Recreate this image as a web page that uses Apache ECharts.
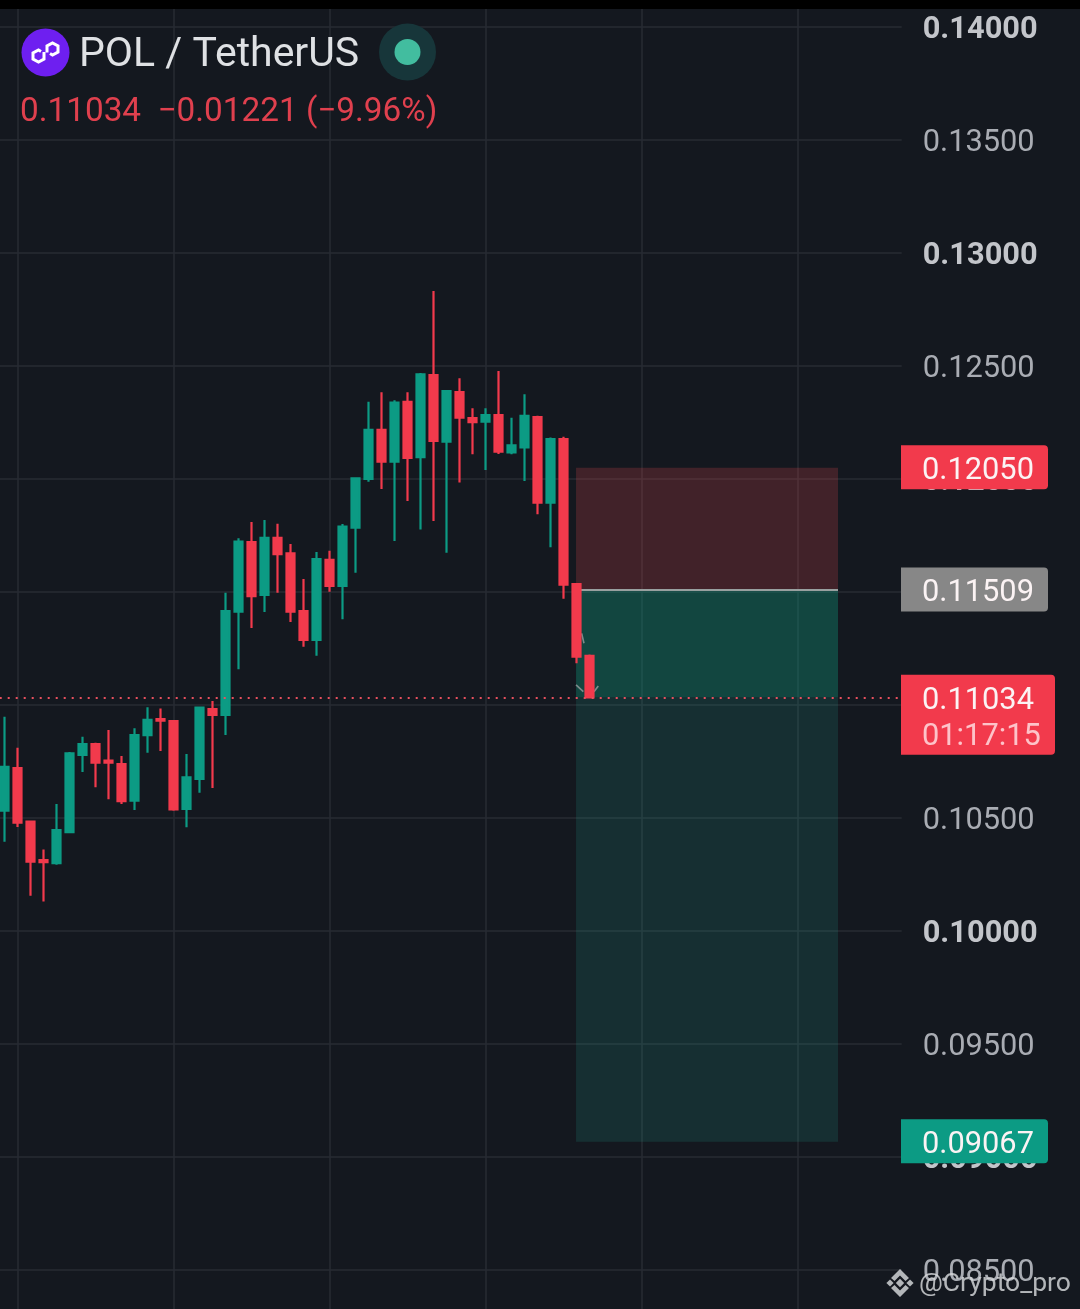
<!DOCTYPE html>
<html>
<head>
<meta charset="utf-8">
<style>html,body{margin:0;padding:0;background:#14181f}#c{width:1080px;height:1309px}</style>
<script src="https://cdn.jsdelivr.net/npm/echarts@6/dist/echarts.min.js"></script>
</head>
<body>
<div id="c"></div>
<script>
const opens  = [0.10532,0.10721,0.10484,0.10314,0.10300,0.10437,0.10779,0.10827,0.10754,0.10739,0.10577,0.10867,0.10938,0.10929,0.10540,0.10673,0.10982,0.10956,0.11413,0.11721,0.11487,0.11740,0.11671,0.11416,0.11288,0.11642,0.11527,0.11785,0.12000,0.12217,0.12077,0.12341,0.12097,0.12460,0.12165,0.12384,0.12269,0.12254,0.12283,0.12118,0.12140,0.12274,0.11895,0.12177,0.11535,0.11218];
const closes = [0.10726,0.10479,0.10307,0.10305,0.10447,0.10786,0.10827,0.10745,0.10745,0.10575,0.10867,0.10934,0.10931,0.10538,0.10680,0.10988,0.10956,0.11416,0.11723,0.11482,0.11740,0.11668,0.11413,0.11288,0.11646,0.11527,0.11789,0.12003,0.12217,0.12077,0.12338,0.12093,0.12463,0.12169,0.12389,0.12271,0.12252,0.12283,0.12121,0.12149,0.12279,0.11895,0.12177,0.11532,0.11214,0.11034];
const lows   = [0.10395,0.10460,0.10156,0.10130,0.10293,0.10434,0.10704,0.10636,0.10583,0.10562,0.10535,0.10789,0.10796,0.10532,0.10459,0.10612,0.10633,0.10867,0.11158,0.11341,0.11412,0.11497,0.11367,0.11258,0.11218,0.11501,0.11379,0.11585,0.11988,0.11956,0.11726,0.11903,0.11777,0.11814,0.11674,0.11985,0.12109,0.12040,0.12111,0.12109,0.11991,0.11844,0.11698,0.11470,0.11185,0.11031];
const highs  = [0.10948,0.10811,0.10487,0.10361,0.10562,0.10792,0.10860,0.10833,0.10889,0.10774,0.10897,0.10990,0.10985,0.10934,0.10783,0.10991,0.11018,0.11497,0.11738,0.11810,0.11819,0.11802,0.11712,0.11558,0.11677,0.11683,0.11801,0.12004,0.12342,0.12384,0.12348,0.12384,0.12469,0.12832,0.12389,0.12446,0.12313,0.12313,0.12478,0.12271,0.12375,0.12280,0.12184,0.12187,0.11535,0.11223];

const stopPrice = 0.12050, entryPrice = 0.11509, lastPrice = 0.11034, targetPrice = 0.09067;
const positionBars = [44.95, 65.1];
const tagPrices = [stopPrice, entryPrice, targetPrice, lastPrice];
const tagTexts = ['0.12050', '0.11509', '0.09067', '0.11034'];
const countdown = '01:17:15';
const tradeMarkBars = [[44.95,45.51],[46.66,46.33],[45.38,45.56]];
const tradeMarkPrices = [[0.11089,0.11059],[0.11084,0.11059],[0.11317,0.11273]];
const titleText = 'POL / TetherUS';
const quoteText = '0.11034  \u22120.01221 (\u22129.96%)';
const watermark = '@Crypto_pro';

const UP = '#0c9b84', DOWN = '#f23a4c', BG = '#14181f';
const BAR_SLOTS = 71;
const categories = Array.from({length: BAR_SLOTS}, (_, i) => String(i));
const candles = [['-','-','-','-']].concat(opens.map((o, i) => [o, closes[i], lows[i], highs[i]]));

const boxes = [
  [stopPrice, entryPrice, 'rgba(237,75,80,0.21)'],
  [entryPrice, lastPrice, 'rgba(16,165,135,0.33)'],
  [lastPrice, targetPrice, 'rgba(35,165,150,0.17)']
];
const tagColors = [DOWN, '#878787', UP, DOWN];

const chart = echarts.init(document.getElementById('c'), null, {renderer: 'canvas', width: 1080, height: 1309});

function diamond(cx, cy, r, fill) {
  return {type: 'polygon', z: 100, shape: {points: [[cx, cy - r], [cx + r, cy], [cx, cy + r], [cx - r, cy]]}, style: {fill}};
}
const WM = 'rgba(215,217,220,0.82)';
const ic = [900, 1283];

chart.setOption({
  animation: false,
  backgroundColor: BG,
  grid: {left: -8.3, top: -86, width: 910, height: 1469, containLabel: false, outerBoundsMode: 'none'},
  xAxis: [
    {type: 'category', data: categories, boundaryGap: false,
     axisLine: {show: false}, axisTick: {show: false}, axisLabel: {show: false},
     splitLine: {show: true, interval: (i) => (i - 2) % 12 === 0, lineStyle: {color: '#272b33', width: 1.5}}},
    {type: 'value', min: 0, max: BAR_SLOTS - 1, show: false, position: 'top', splitLine: {show: false}}
  ],
  yAxis: [{
    type: 'value', position: 'right', min: 0.08, max: 0.145, interval: 0.005,
    axisLine: {show: false}, axisTick: {show: false},
    splitLine: {show: true, lineStyle: {color: '#272b33', width: 1.5}},
    axisLabel: {
      margin: 21, align: 'left', showMinLabel: true, showMaxLabel: true, padding: [6, 0, 0, 0],
      formatter: (v) => {
        const s = v.toFixed(5);
        return Math.round(v * 100000) % 1000 === 0 ? '{b|' + s + '}' : '{n|' + s + '}';
      },
      rich: {
        n: {fontFamily: 'Roboto', fontSize: 30.8, color: '#a9acb3'},
        b: {fontFamily: 'Roboto', fontSize: 30.8, fontWeight: 'bold', color: '#c3c5ca'}
      }
    }
  }],
  series: [
    {
      name: 'position', type: 'custom', xAxisIndex: 1, yAxisIndex: 0, z: 1, silent: true,
      data: boxes.map((b) => [positionBars[0], positionBars[1], b[0], b[1]]),
      renderItem: (params, api) => {
        const a = api.coord([api.value(0), api.value(2)]);
        const b = api.coord([api.value(1), api.value(3)]);
        const children = [{type: 'rect', shape: {x: a[0], y: a[1], width: b[0] - a[0], height: b[1] - a[1]},
                           style: {fill: boxes[params.dataIndex][2]}}];
        if (params.dataIndex === 1) {
          children.push({type: 'line', shape: {x1: a[0], y1: a[1], x2: b[0], y2: a[1]},
                         style: {stroke: '#98a09f', lineWidth: 2}});
        }
        return {type: 'group', children};
      }
    },
    {
      name: 'tradeMarks', type: 'custom', xAxisIndex: 1, yAxisIndex: 0, z: 2, silent: true,
      data: tradeMarkBars.map((b, i) => [b[0], b[1], tradeMarkPrices[i][0], tradeMarkPrices[i][1]]),
      renderItem: (params, api) => {
        const a = api.coord([api.value(0), api.value(2)]);
        const b = api.coord([api.value(1), api.value(3)]);
        return {type: 'line', shape: {x1: a[0], y1: a[1], x2: b[0], y2: b[1]},
                style: {stroke: '#7f8c8c', lineWidth: 1.6}};
      }
    },
    {
      name: 'POLUSDT', type: 'candlestick', xAxisIndex: 0, yAxisIndex: 0, z: 3, silent: true,
      data: candles, barWidth: 8,
      itemStyle: {color: UP, color0: DOWN, borderColor: UP, borderColor0: DOWN, borderWidth: 2.2},
      markLine: {
        silent: true, symbol: 'none', z: 4, label: {show: false}, animation: false, precision: 5,
        lineStyle: {color: '#e8505e', type: [2, 6], width: 1.8},
        data: [{yAxis: lastPrice}]
      }
    },
    {
      name: 'tags', type: 'custom', xAxisIndex: 1, yAxisIndex: 0, z: 20, silent: true,
      data: tagPrices.map((p, i) => [0, p, i]),
      renderItem: (params, api) => {
        const i = params.dataIndex;
        const y = api.coord([0, api.value(1)])[1];
        const isLast = i === 3;
        const children = [{
          type: 'rect',
          shape: {x: 901, y: y - 22.5, width: isLast ? 154 : 147, height: isLast ? 80 : 44, r: [0, 4, 4, 0]},
          style: {fill: tagColors[i]}
        }, {
          type: 'text',
          style: {x: 922, y: y + 3.5, text: tagTexts[i], fill: '#fbf3f4', fontFamily: 'Roboto', fontSize: 30.8,
                  align: 'left', verticalAlign: 'middle'}
        }];
        if (isLast) {
          children.push({type: 'text',
            style: {x: 922, y: y + 39.5, text: countdown, fill: '#fdc3c9', fontFamily: 'Roboto', fontSize: 30.8,
                    align: 'left', verticalAlign: 'middle'}});
        }
        return {type: 'group', children};
      }
    }
  ],
  graphic: {elements: [
    {type: 'rect', z: 90, shape: {x: 0, y: 0, width: 1080, height: 9}, style: {fill: '#000'}},
    {type: 'circle', z: 100, shape: {cx: 45.5, cy: 52.5, r: 24}, style: {fill: '#6e1ff0'}},
    {type: 'polyline', z: 101, shape: {points: [[44,52],[44,59],[38.5,62],[33,59],[33,53],[38.5,50],[41,51.5]]}, style: {stroke: '#fff', fill: 'none', lineWidth: 3}},
    {type: 'polyline', z: 101, shape: {points: [[47,52.5],[47,46],[52.5,43],[58,46],[58,52],[52.5,55],[50,53.5]]}, style: {stroke: '#fff', fill: 'none', lineWidth: 3}},
    {type: 'text', z: 100, style: {x: 79, y: 56, text: titleText, fill: '#dfe1e4', fontFamily: 'Roboto', fontSize: 41, align: 'left', verticalAlign: 'middle'}},
    {type: 'circle', z: 100, shape: {cx: 407.5, cy: 52, r: 28.5}, style: {fill: '#17363a'}},
    {type: 'circle', z: 101, shape: {cx: 407.5, cy: 52, r: 13}, style: {fill: '#42bd9f'}},
    {type: 'text', z: 100, style: {x: 20, y: 113, text: quoteText, fill: '#e0404e', fontFamily: 'Roboto', fontSize: 33.3, align: 'left', verticalAlign: 'middle'}},
    diamond(ic[0], ic[1], 4.2, WM),
    diamond(ic[0] - 10, ic[1], 3.6, WM),
    diamond(ic[0] + 10, ic[1], 3.6, WM),
    {type: 'polygon', z: 100, shape: {points: [[900,1269],[909,1278],[905.5,1281],[900,1275.5],[894.5,1281],[891,1278]]}, style: {fill: WM}},
    {type: 'polygon', z: 100, shape: {points: [[900,1297],[909,1288],[905.5,1285],[900,1290.5],[894.5,1285],[891,1288]]}, style: {fill: WM}},
    {type: 'text', z: 100, style: {x: 919, y: 1284, text: watermark, fill: WM, fontFamily: 'Roboto', fontSize: 26.5, align: 'left', verticalAlign: 'middle'}}
  ]}
});
</script>
</body>
</html>
